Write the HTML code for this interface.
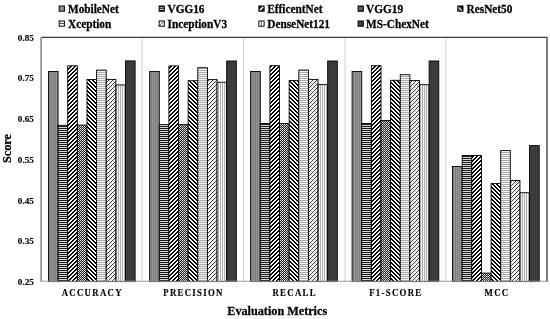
<!DOCTYPE html>
<html><head><meta charset="utf-8"><style>
html,body{margin:0;padding:0;background:#fff;}
body{width:550px;height:319px;overflow:hidden;}
svg{display:block;}
text{font-family:"Liberation Serif","Times New Roman",serif;font-weight:bold;fill:#000;stroke:#000;stroke-width:0.25px;}
.tk{font-size:9.2px;stroke-width:0.1px;}
.cat{font-size:8.8px;letter-spacing:1.3px;stroke-width:0.12px;}
.ttl{font-size:12.2px;}
.lg{font-size:11.3px;}
</style></head><body>
<svg width="550" height="319" viewBox="0 0 550 319">
<defs>
<pattern id="pMob" width="2" height="2" patternUnits="userSpaceOnUse"><rect width="2" height="2" fill="#7e7e7e"/><rect width="1" height="2" fill="#959595"/></pattern>
<pattern id="pV16" width="2" height="2" patternUnits="userSpaceOnUse"><rect width="2" height="2" fill="#d8d8d8"/><rect width="2" height="1" fill="#1a1a1a"/></pattern>
<pattern id="pEff" width="4" height="4" patternUnits="userSpaceOnUse"><rect width="4" height="4" fill="#fff"/><rect x="0" y="0" width="1" height="1" fill="#000"/><rect x="1" y="0" width="1" height="1" fill="#000"/><rect x="0" y="1" width="1" height="1" fill="#000"/><rect x="3" y="1" width="1" height="1" fill="#000"/><rect x="2" y="2" width="1" height="1" fill="#000"/><rect x="3" y="2" width="1" height="1" fill="#000"/><rect x="1" y="3" width="1" height="1" fill="#000"/><rect x="2" y="3" width="1" height="1" fill="#000"/></pattern>
<pattern id="pV19" width="2" height="2" patternUnits="userSpaceOnUse"><rect width="2" height="2" fill="#222"/><rect width="1" height="1" fill="#eee"/><rect x="1" y="1" width="1" height="1" fill="#bbb"/></pattern>
<pattern id="pRes" width="4" height="4" patternUnits="userSpaceOnUse"><rect width="4" height="4" fill="#fff"/><rect x="0" y="0" width="1" height="1" fill="#000"/><rect x="1" y="0" width="1" height="1" fill="#000"/><rect x="1" y="1" width="1" height="1" fill="#000"/><rect x="2" y="1" width="1" height="1" fill="#000"/><rect x="2" y="2" width="1" height="1" fill="#000"/><rect x="3" y="2" width="1" height="1" fill="#000"/><rect x="0" y="3" width="1" height="1" fill="#000"/><rect x="3" y="3" width="1" height="1" fill="#000"/></pattern>
<pattern id="pXce" width="2" height="2" patternUnits="userSpaceOnUse"><rect width="2" height="2" fill="#f6f6f6"/><rect width="2" height="1" fill="#aaaaaa"/></pattern>
<pattern id="pInc" width="4" height="4" patternUnits="userSpaceOnUse"><rect width="4" height="4" fill="#fbfbfb"/><rect x="0" y="0" width="1" height="1" fill="#3a3a3a"/><rect x="1" y="1" width="1" height="1" fill="#c4c4c4"/><rect x="3" y="1" width="1" height="1" fill="#3a3a3a"/><rect x="2" y="2" width="1" height="1" fill="#3a3a3a"/><rect x="1" y="3" width="1" height="1" fill="#3a3a3a"/><rect x="3" y="3" width="1" height="1" fill="#c4c4c4"/></pattern>
<pattern id="pDen" width="2" height="2" patternUnits="userSpaceOnUse"><rect width="2" height="2" fill="#f4f4f4"/><rect width="1" height="2" fill="#b0b0b0"/></pattern>
<pattern id="pMS" width="2" height="2" patternUnits="userSpaceOnUse"><rect width="2" height="2" fill="#383838"/><rect width="1" height="1" fill="#474747"/></pattern>
</defs>
<rect width="550" height="319" fill="#fff"/>
<line x1="142.10" y1="37.4" x2="142.10" y2="281.6" stroke="#d0d0d0" stroke-width="1"/>
<line x1="243.60" y1="37.4" x2="243.60" y2="281.6" stroke="#d0d0d0" stroke-width="1"/>
<line x1="345.00" y1="37.4" x2="345.00" y2="281.6" stroke="#d0d0d0" stroke-width="1"/>
<line x1="445.90" y1="37.4" x2="445.90" y2="281.6" stroke="#d0d0d0" stroke-width="1"/>
<rect x="48.45" y="71.50" width="9.63" height="210.10" fill="url(#pMob)" stroke="#000" stroke-width="0.9"/>
<rect x="58.08" y="125.30" width="9.63" height="156.30" fill="url(#pV16)" stroke="#000" stroke-width="0.9"/>
<rect x="67.71" y="65.80" width="9.63" height="215.80" fill="url(#pEff)" stroke="#000" stroke-width="0.9"/>
<rect x="77.34" y="125.10" width="9.63" height="156.50" fill="url(#pV19)" stroke="#000" stroke-width="0.9"/>
<rect x="86.97" y="79.50" width="9.63" height="202.10" fill="url(#pRes)" stroke="#000" stroke-width="0.9"/>
<rect x="96.60" y="70.10" width="9.63" height="211.50" fill="url(#pXce)" stroke="#000" stroke-width="0.9"/>
<rect x="106.23" y="79.40" width="9.63" height="202.20" fill="url(#pInc)" stroke="#000" stroke-width="0.9"/>
<rect x="115.86" y="84.90" width="9.63" height="196.70" fill="url(#pDen)" stroke="#000" stroke-width="0.9"/>
<rect x="125.49" y="60.90" width="9.63" height="220.70" fill="url(#pMS)" stroke="#000" stroke-width="0.9"/>
<rect x="149.65" y="71.50" width="9.63" height="210.10" fill="url(#pMob)" stroke="#000" stroke-width="0.9"/>
<rect x="159.28" y="124.60" width="9.63" height="157.00" fill="url(#pV16)" stroke="#000" stroke-width="0.9"/>
<rect x="168.91" y="65.90" width="9.63" height="215.70" fill="url(#pEff)" stroke="#000" stroke-width="0.9"/>
<rect x="178.54" y="124.60" width="9.63" height="157.00" fill="url(#pV19)" stroke="#000" stroke-width="0.9"/>
<rect x="188.17" y="80.70" width="9.63" height="200.90" fill="url(#pRes)" stroke="#000" stroke-width="0.9"/>
<rect x="197.80" y="67.70" width="9.63" height="213.90" fill="url(#pXce)" stroke="#000" stroke-width="0.9"/>
<rect x="207.43" y="79.60" width="9.63" height="202.00" fill="url(#pInc)" stroke="#000" stroke-width="0.9"/>
<rect x="217.06" y="82.20" width="9.63" height="199.40" fill="url(#pDen)" stroke="#000" stroke-width="0.9"/>
<rect x="226.69" y="61.00" width="9.63" height="220.60" fill="url(#pMS)" stroke="#000" stroke-width="0.9"/>
<rect x="250.65" y="71.50" width="9.63" height="210.10" fill="url(#pMob)" stroke="#000" stroke-width="0.9"/>
<rect x="260.28" y="123.50" width="9.63" height="158.10" fill="url(#pV16)" stroke="#000" stroke-width="0.9"/>
<rect x="269.91" y="65.70" width="9.63" height="215.90" fill="url(#pEff)" stroke="#000" stroke-width="0.9"/>
<rect x="279.54" y="123.50" width="9.63" height="158.10" fill="url(#pV19)" stroke="#000" stroke-width="0.9"/>
<rect x="289.17" y="80.50" width="9.63" height="201.10" fill="url(#pRes)" stroke="#000" stroke-width="0.9"/>
<rect x="298.80" y="70.10" width="9.63" height="211.50" fill="url(#pXce)" stroke="#000" stroke-width="0.9"/>
<rect x="308.43" y="79.40" width="9.63" height="202.20" fill="url(#pInc)" stroke="#000" stroke-width="0.9"/>
<rect x="318.06" y="84.60" width="9.63" height="197.00" fill="url(#pDen)" stroke="#000" stroke-width="0.9"/>
<rect x="327.69" y="61.00" width="9.63" height="220.60" fill="url(#pMS)" stroke="#000" stroke-width="0.9"/>
<rect x="352.10" y="71.50" width="9.63" height="210.10" fill="url(#pMob)" stroke="#000" stroke-width="0.9"/>
<rect x="361.73" y="123.50" width="9.63" height="158.10" fill="url(#pV16)" stroke="#000" stroke-width="0.9"/>
<rect x="371.36" y="65.70" width="9.63" height="215.90" fill="url(#pEff)" stroke="#000" stroke-width="0.9"/>
<rect x="380.99" y="120.50" width="9.63" height="161.10" fill="url(#pV19)" stroke="#000" stroke-width="0.9"/>
<rect x="390.62" y="80.30" width="9.63" height="201.30" fill="url(#pRes)" stroke="#000" stroke-width="0.9"/>
<rect x="400.25" y="74.70" width="9.63" height="206.90" fill="url(#pXce)" stroke="#000" stroke-width="0.9"/>
<rect x="409.88" y="80.50" width="9.63" height="201.10" fill="url(#pInc)" stroke="#000" stroke-width="0.9"/>
<rect x="419.51" y="84.70" width="9.63" height="196.90" fill="url(#pDen)" stroke="#000" stroke-width="0.9"/>
<rect x="429.14" y="61.00" width="9.63" height="220.60" fill="url(#pMS)" stroke="#000" stroke-width="0.9"/>
<rect x="452.55" y="166.50" width="9.63" height="115.10" fill="url(#pMob)" stroke="#000" stroke-width="0.9"/>
<rect x="462.18" y="155.50" width="9.63" height="126.10" fill="url(#pV16)" stroke="#000" stroke-width="0.9"/>
<rect x="471.81" y="155.50" width="9.63" height="126.10" fill="url(#pEff)" stroke="#000" stroke-width="0.9"/>
<rect x="481.44" y="273.10" width="9.63" height="8.50" fill="url(#pV19)" stroke="#000" stroke-width="0.9"/>
<rect x="491.07" y="183.60" width="9.63" height="98.00" fill="url(#pRes)" stroke="#000" stroke-width="0.9"/>
<rect x="500.70" y="150.60" width="9.63" height="131.00" fill="url(#pXce)" stroke="#000" stroke-width="0.9"/>
<rect x="510.33" y="180.40" width="9.63" height="101.20" fill="url(#pInc)" stroke="#000" stroke-width="0.9"/>
<rect x="519.96" y="192.70" width="9.63" height="88.90" fill="url(#pDen)" stroke="#000" stroke-width="0.9"/>
<rect x="529.59" y="145.60" width="9.63" height="136.00" fill="url(#pMS)" stroke="#000" stroke-width="0.9"/>
<line x1="41.3" y1="37.45" x2="547" y2="37.45" stroke="#3a3a3a" stroke-width="1.3"/>
<line x1="547" y1="37" x2="547" y2="281.8" stroke="#4a4a4a" stroke-width="1.4"/>
<line x1="41.1" y1="37" x2="41.1" y2="281.8" stroke="#8c8c8c" stroke-width="1.6"/>
<line x1="41" y1="281.3" x2="547" y2="281.3" stroke="#999" stroke-width="1.1"/>
<text x="33.9" y="40.70" text-anchor="end" class="tk">0.85</text>
<text x="33.9" y="81.40" text-anchor="end" class="tk">0.75</text>
<text x="33.9" y="122.10" text-anchor="end" class="tk">0.65</text>
<text x="33.9" y="162.80" text-anchor="end" class="tk">0.55</text>
<text x="33.9" y="203.50" text-anchor="end" class="tk">0.45</text>
<text x="33.9" y="244.20" text-anchor="end" class="tk">0.35</text>
<text x="33.9" y="284.90" text-anchor="end" class="tk">0.25</text>
<text transform="translate(92.25 296.3) scale(1 1.06)" text-anchor="middle" class="cat">ACCURACY</text>
<text transform="translate(193.45 296.3) scale(1 1.06)" text-anchor="middle" class="cat">PRECISION</text>
<text transform="translate(294.65 296.3) scale(1 1.06)" text-anchor="middle" class="cat">RECALL</text>
<text transform="translate(395.85 296.3) scale(1 1.06)" text-anchor="middle" class="cat">F1-SCORE</text>
<text transform="translate(497.05 296.3) scale(1 1.06)" text-anchor="middle" class="cat">MCC</text>
<text transform="translate(277.2 315.0) scale(1 1.1)" text-anchor="middle" class="ttl">Evaluation Metrics</text>
<text transform="translate(11.4 148.6) rotate(-90) scale(1 1.06)" text-anchor="middle" class="ttl">Score</text>
<rect x="59.20" y="6.00" width="5.2" height="5.2" fill="#8a8a8a" stroke="#000" stroke-width="1"/><rect x="61.40" y="6.50" width="0.8" height="4.2" fill="#a0a0a0"/>
<text transform="translate(68.00 12.85) scale(1 1.16)" class="lg">MobileNet</text>
<rect x="159.10" y="6.00" width="5.2" height="5.2" fill="#151515" stroke="#000" stroke-width="1"/><rect x="159.60" y="7.40" width="4.2" height="0.8" fill="#f4f4f4"/><rect x="159.60" y="9.10" width="4.2" height="0.8" fill="#f4f4f4"/>
<text transform="translate(167.50 12.85) scale(1 1.16)" class="lg">VGG16</text>
<rect x="258.90" y="6.00" width="5.2" height="5.2" fill="#151515" stroke="#000" stroke-width="1"/><path d="M259.80 10.30 L263.20 6.90" stroke="#f4f4f4" stroke-width="1.5"/>
<text transform="translate(267.30 12.85) scale(1 1.16)" class="lg">EfficentNet</text>
<rect x="358.10" y="6.00" width="5.2" height="5.2" fill="#3a3a3a" stroke="#000" stroke-width="1"/><rect x="359.40" y="7.30" width="0.9" height="2.6" fill="#9a9a9a"/><rect x="361.20" y="7.30" width="0.9" height="2.6" fill="#9a9a9a"/>
<text transform="translate(366.10 12.85) scale(1 1.16)" class="lg">VGG19</text>
<rect x="457.80" y="6.00" width="5.2" height="5.2" fill="#151515" stroke="#000" stroke-width="1"/><path d="M458.50 7.40 L461.60 10.50" stroke="#f4f4f4" stroke-width="1.3"/><path d="M458.30 9.40 L458.30 10.70 L459.60 10.70 Z" fill="#e0e0e0"/>
<text transform="translate(466.60 12.85) scale(1 1.16)" class="lg">ResNet50</text>
<rect x="59.20" y="21.00" width="5.2" height="5.2" fill="#fdfdfd" stroke="#000" stroke-width="1"/><rect x="59.70" y="23.20" width="4.2" height="0.8" fill="#222"/>
<text transform="translate(68.00 27.65) scale(1 1.16)" class="lg">Xception</text>
<rect x="159.10" y="21.00" width="5.2" height="5.2" fill="#fdfdfd" stroke="#000" stroke-width="1"/><path d="M159.60 25.70 L163.80 21.50" stroke="#333" stroke-width="0.8"/>
<text transform="translate(167.50 27.65) scale(1 1.16)" class="lg">InceptionV3</text>
<rect x="258.90" y="21.00" width="5.2" height="5.2" fill="#f8f8f8" stroke="#000" stroke-width="1"/><rect x="261.10" y="21.50" width="0.8" height="4.2" fill="#555"/><rect x="259.40" y="21.50" width="0.6" height="4.2" fill="#aaa"/><rect x="263.00" y="21.50" width="0.6" height="4.2" fill="#aaa"/>
<text transform="translate(267.30 27.65) scale(1 1.16)" class="lg">DenseNet121</text>
<rect x="358.10" y="21.00" width="5.2" height="5.2" fill="#404040" stroke="#000" stroke-width="1"/>
<text transform="translate(366.10 27.65) scale(1 1.16)" class="lg">MS-ChexNet</text>
</svg>
</body></html>
